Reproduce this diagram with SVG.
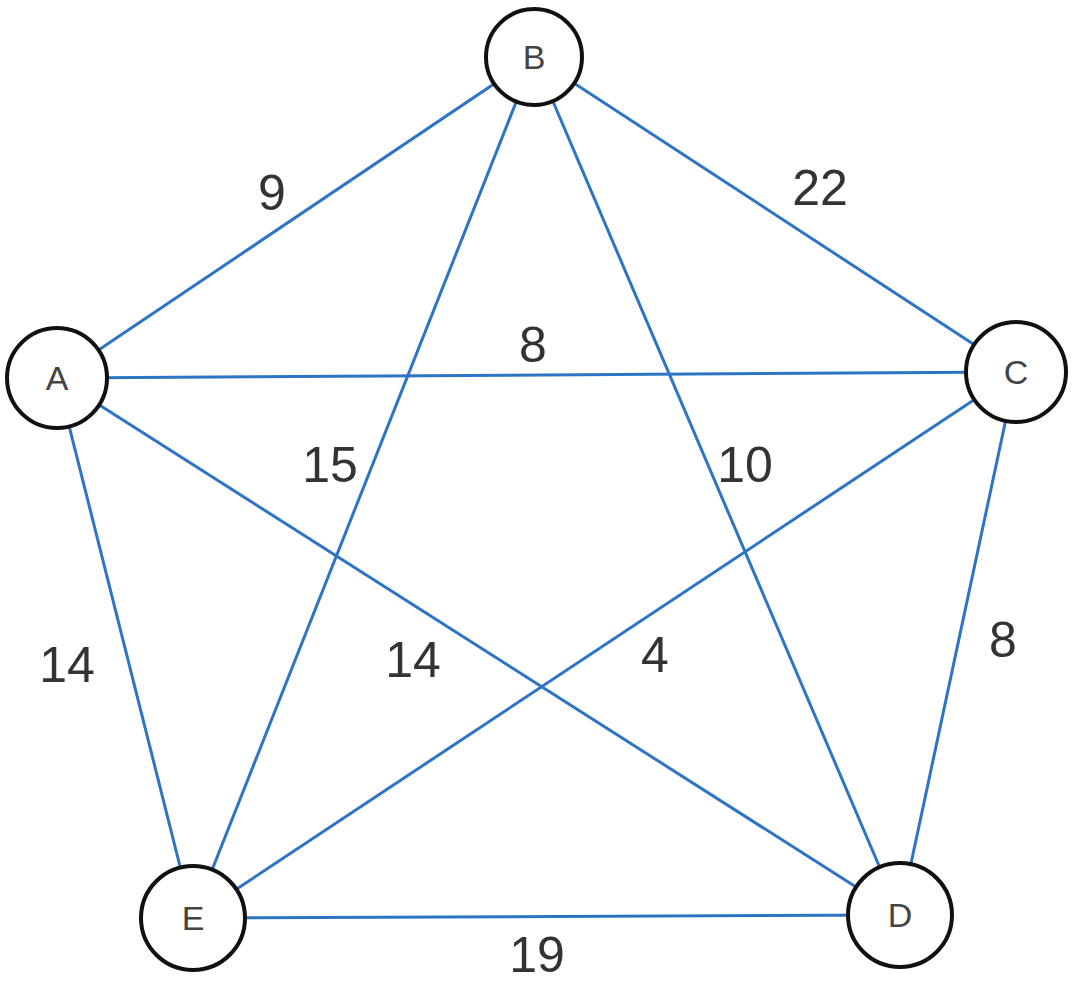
<svg xmlns="http://www.w3.org/2000/svg" width="1080" height="984" viewBox="0 0 1080 984">
<style>
.e{stroke:#2e74c4;stroke-width:3;fill:none}
.n{fill:#fff;stroke:#111;stroke-width:4}
.nl{font-family:"Liberation Sans",Arial,sans-serif;font-size:34px;fill:#444;text-anchor:middle;dominant-baseline:central}
.w{font-family:"Liberation Sans",Arial,sans-serif;font-size:50px;fill:#333;text-anchor:middle;dominant-baseline:central}
</style>
<rect width="1080" height="984" fill="#fff"/>
<g id="edges">
<line class="e" x1="57" y1="378" x2="534" y2="57"/>
<line class="e" x1="534" y1="57" x2="1016" y2="372"/>
<line class="e" x1="57" y1="378" x2="1016" y2="372"/>
<line class="e" x1="57" y1="378" x2="193" y2="918"/>
<line class="e" x1="57" y1="378" x2="900" y2="915"/>
<line class="e" x1="534" y1="57" x2="193" y2="918"/>
<line class="e" x1="534" y1="57" x2="900" y2="915"/>
<line class="e" x1="1016" y1="372" x2="193" y2="918"/>
<line class="e" x1="1016" y1="372" x2="900" y2="915"/>
<line class="e" x1="193" y1="918" x2="900" y2="915"/>
</g>
<g id="labels">
<text class="w" x="272" y="193">9</text>
<text class="w" x="820" y="188">22</text>
<text class="w" x="533" y="345">8</text>
<text class="w" x="330" y="465">15</text>
<text class="w" x="745" y="465">10</text>
<text class="w" x="67" y="665">14</text>
<text class="w" x="413" y="660">14</text>
<text class="w" x="655" y="655">4</text>
<text class="w" x="1003" y="640">8</text>
<text class="w" x="537" y="955">19</text>
</g>
<g id="node-B"><circle class="n" cx="534" cy="57" r="48"/><text class="nl" x="534" y="57">B</text></g>
<g id="node-A"><circle class="n" cx="57" cy="378" r="50"/><text class="nl" x="57" y="378">A</text></g>
<g id="node-C"><circle class="n" cx="1016" cy="372" r="50"/><text class="nl" x="1016" y="372">C</text></g>
<g id="node-E"><circle class="n" cx="193" cy="918" r="52"/><text class="nl" x="193" y="918">E</text></g>
<g id="node-D"><circle class="n" cx="900" cy="915" r="52"/><text class="nl" x="900" y="915">D</text></g>
</svg>
